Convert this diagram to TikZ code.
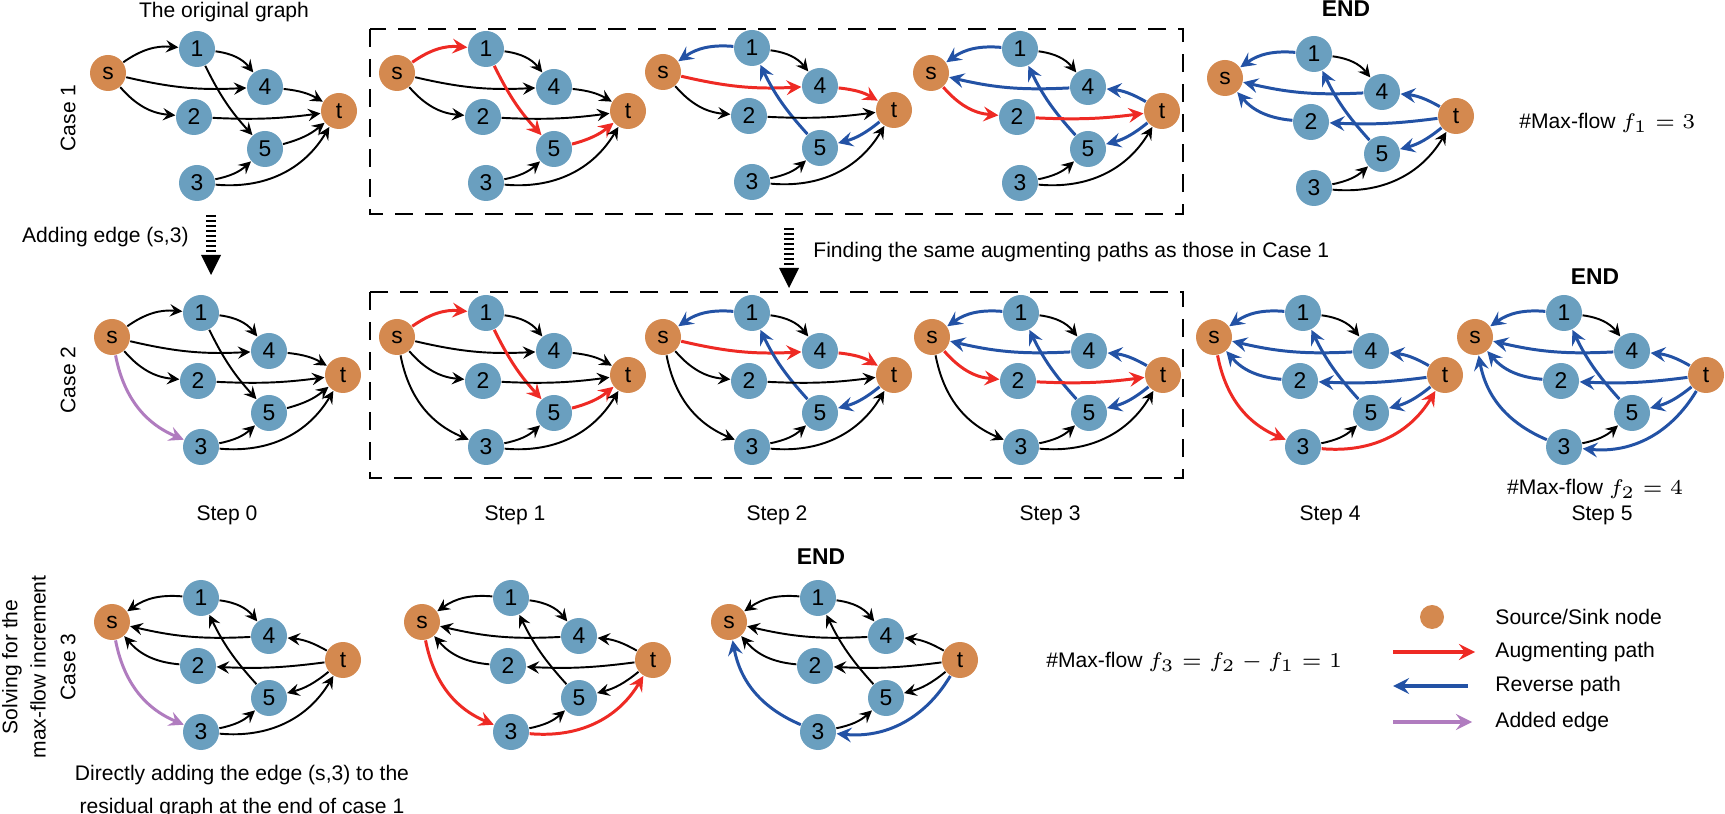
\documentclass[tikz,border=0pt]{standalone}
\usepackage{fontspec}
\setmainfont{Liberation Sans}
\definecolor{srccol}{HTML}{D4894F}
\definecolor{nodecol}{HTML}{6A9FBF}
\definecolor{augcol}{HTML}{EE2A24}
\definecolor{revcol}{HTML}{2352A5}
\definecolor{addcol}{HTML}{B07CBF}

\tikzset{
  vtx/.style={circle, fill=nodecol, minimum size=3.6mm, inner sep=0pt, font=\fontsize{6.5}{7}\selectfont},
  st/.style={vtx, fill=srccol},
  fwd/.style={->, black, line width=0.55pt},
  back/.style={<-, black, line width=0.55pt},
  aug/.style={->, augcol, line width=0.85pt},
  rev/.style={<-, revcol, line width=0.85pt},
  add/.style={->, addcol, line width=0.85pt},
  bs1/.style={bend left=20}, bs4/.style={bend right=8}, bs2/.style={bend right=22},
  b14/.style={bend left=22}, b15/.style={bend right=8}, b4t/.style={bend left=12},
  b2t/.style={bend right=5}, b5t/.style={bend right=12}, b35/.style={bend right=15},
  b3t/.style={bend right=32}, bs3/.style={bend right=28},
  dbox/.style={dashed, dash pattern=on 1.8mm off 1.2mm, line width=0.6pt},
  lbl/.style={font=\fontsize{6}{7}\selectfont},
  endlbl/.style={font=\fontsize{6.5}{7}\selectfont\bfseries},
}

% #1 name, #2 #3 position of s, #4 edges
\newcommand{\flowgraph}[4]{
  \begin{scope}[shift={(#2,#3)}]
    \node[st] (#1s) at (0,0) {s};
    \node[st] (#1t) at (231,38) {t};
    \foreach \n/\px/\py in {1/89/-24, 4/157/14, 2/86/44, 5/157/76, 3/89/110}
      \node[vtx] (#1\n) at (\px,\py) {\n};
  \end{scope}
  \foreach \u/\v/\k in {#4}{
    \edef\tmp{\noexpand\draw[\k, b\u\v] (#1\u) to (#1\v);}\tmp
  }
}

\newcommand{\bigarrow}[3]{
  \coordinate (#1a) at (#2,#3);
  \coordinate (#1b) at (#2,#3+40);
  \draw[line width=1mm, dash pattern=on 0.25mm off 0.25mm] (#1a) -- (#1b);
  \fill ($(#1b)+(-10,0)$) -- ($(#1b)+(10,0)$) -- ($(#1b)+(0,20)$) -- cycle;
}

\usetikzlibrary{calc}

\begin{document}
\begin{tikzpicture}[x=0.1mm, y=-0.1mm, >=stealth]
  \useasboundingbox (0,0) rectangle (1725,814);

  % case 1
  \flowgraph{a0}{108}{73}{s/1/fwd, s/4/fwd, s/2/fwd, 1/4/fwd, 1/5/fwd, 4/t/fwd, 2/t/fwd, 5/t/fwd, 3/5/fwd, 3/t/fwd}
  \flowgraph{a1}{397}{73}{s/1/aug, s/4/fwd, s/2/fwd, 1/4/fwd, 1/5/aug, 4/t/fwd, 2/t/fwd, 5/t/aug, 3/5/fwd, 3/t/fwd}
  \flowgraph{a2}{663}{72}{s/1/rev, s/4/aug, s/2/fwd, 1/4/fwd, 1/5/rev, 4/t/aug, 2/t/fwd, 5/t/rev, 3/5/fwd, 3/t/fwd}
  \flowgraph{a3}{931}{73}{s/1/rev, s/4/rev, s/2/aug, 1/4/fwd, 1/5/rev, 4/t/rev, 2/t/aug, 5/t/rev, 3/5/fwd, 3/t/fwd}
  \flowgraph{a4}{1225}{78}{s/1/rev, s/4/rev, s/2/rev, 1/4/fwd, 1/5/rev, 4/t/rev, 2/t/rev, 5/t/rev, 3/5/fwd, 3/t/fwd}

  % case 2
  \flowgraph{b0}{112}{337}{s/1/fwd, s/4/fwd, s/2/fwd, 1/4/fwd, 1/5/fwd, 4/t/fwd, 2/t/fwd, 5/t/fwd, 3/5/fwd, 3/t/fwd, s/3/add}
  \flowgraph{b1}{397}{337}{s/1/aug, s/4/fwd, s/2/fwd, 1/4/fwd, 1/5/aug, 4/t/fwd, 2/t/fwd, 5/t/aug, 3/5/fwd, 3/t/fwd, s/3/fwd}
  \flowgraph{b2}{663}{337}{s/1/rev, s/4/aug, s/2/fwd, 1/4/fwd, 1/5/rev, 4/t/aug, 2/t/fwd, 5/t/rev, 3/5/fwd, 3/t/fwd, s/3/fwd}
  \flowgraph{b3}{932}{337}{s/1/rev, s/4/rev, s/2/aug, 1/4/fwd, 1/5/rev, 4/t/rev, 2/t/aug, 5/t/rev, 3/5/fwd, 3/t/fwd, s/3/fwd}
  \flowgraph{b4}{1214}{337}{s/1/rev, s/4/rev, s/2/rev, 1/4/fwd, 1/5/rev, 4/t/rev, 2/t/rev, 5/t/rev, 3/5/fwd, 3/t/aug, s/3/aug}
  \flowgraph{b5}{1475}{337}{s/1/rev, s/4/rev, s/2/rev, 1/4/fwd, 1/5/rev, 4/t/rev, 2/t/rev, 5/t/rev, 3/5/fwd, 3/t/rev, s/3/rev}

  % case 3
  \flowgraph{c0}{112}{622}{s/1/back, s/4/back, s/2/back, 1/4/fwd, 1/5/back, 4/t/back, 2/t/back, 5/t/back, 3/5/fwd, 3/t/fwd, s/3/add}
  \flowgraph{c1}{422}{622}{s/1/back, s/4/back, s/2/back, 1/4/fwd, 1/5/back, 4/t/back, 2/t/back, 5/t/back, 3/5/fwd, 3/t/aug, s/3/aug}
  \flowgraph{c2}{729}{622}{s/1/back, s/4/back, s/2/back, 1/4/fwd, 1/5/back, 4/t/back, 2/t/back, 5/t/back, 3/5/fwd, 3/t/rev, s/3/rev}

  \draw[dbox] (370,29) rectangle (1183,214);
  \draw[dbox] (370,292) rectangle (1183,478);

  \bigarrow{add}{211}{215}
  \bigarrow{find}{789}{228}
  \node[lbl, anchor=east] (addtxt) at (201,237) {Adding edge (s,3)};
  \node[lbl, anchor=west] (findtxt) at (801,252) {Finding the same augmenting paths as those in Case 1};

  \node[lbl] (orig) at (224,12) {The original graph};
  \node[endlbl] (end1) at (1346,9) {END};
  \node[endlbl] (end2) at (1595,277) {END};
  \node[endlbl] (end3) at (821,557) {END};

  \node[lbl, rotate=90] (case1) at (68,118) {Case 1};
  \node[lbl, rotate=90] (case2) at (68,380) {Case 2};
  \node[lbl, rotate=90] (case3) at (68,667) {Case 3};
  \node[lbl, rotate=90] (solve1) at (12,667) {Solving for the};
  \node[lbl, rotate=90] (solve2) at (38,667) {max-flow increment};

  \foreach \i/\x in {0/227, 1/515, 2/777, 3/1050, 4/1330, 5/1602}
    \node[lbl] (step\i) at (\x,515) {Step \i};

  \node[lbl, anchor=west] (mf1) at (1507,123) {\#Max-flow $f_1=3$};
  \node[lbl] (mf2) at (1595,489) {\#Max-flow $f_2=4$};
  \node[lbl, anchor=west] (mf3) at (1034,662) {\#Max-flow $f_3=f_2-f_1=1$};
  \node[lbl, align=center, font=\fontsize{6}{9.4}\selectfont] (direct) at (242,792)
    {Directly adding the edge (s,3) to the\\residual graph at the end of case 1};

  % legend
  \node[circle, fill=srccol, minimum size=2.4mm, inner sep=0pt] (lgs) at (1432,617) {};
  \coordinate (la1) at (1393,652); \coordinate (la2) at (1475,652);
  \coordinate (lr1) at (1393,686); \coordinate (lr2) at (1468,686);
  \coordinate (lp1) at (1393,722); \coordinate (lp2) at (1472,722);
  \draw[->, augcol, line width=1pt] (la1) -- (la2);
  \draw[<-, revcol, line width=1pt] (lr1) -- (lr2);
  \draw[->, addcol, line width=1pt] (lp1) -- (lp2);
  \node[lbl, anchor=west] at (1483,617) {Source/Sink node};
  \node[lbl, anchor=west] at (1483,652) {Augmenting path};
  \node[lbl, anchor=west] at (1483,686) {Reverse path};
  \node[lbl, anchor=west] at (1483,722) {Added edge};
\end{tikzpicture}
\end{document}
